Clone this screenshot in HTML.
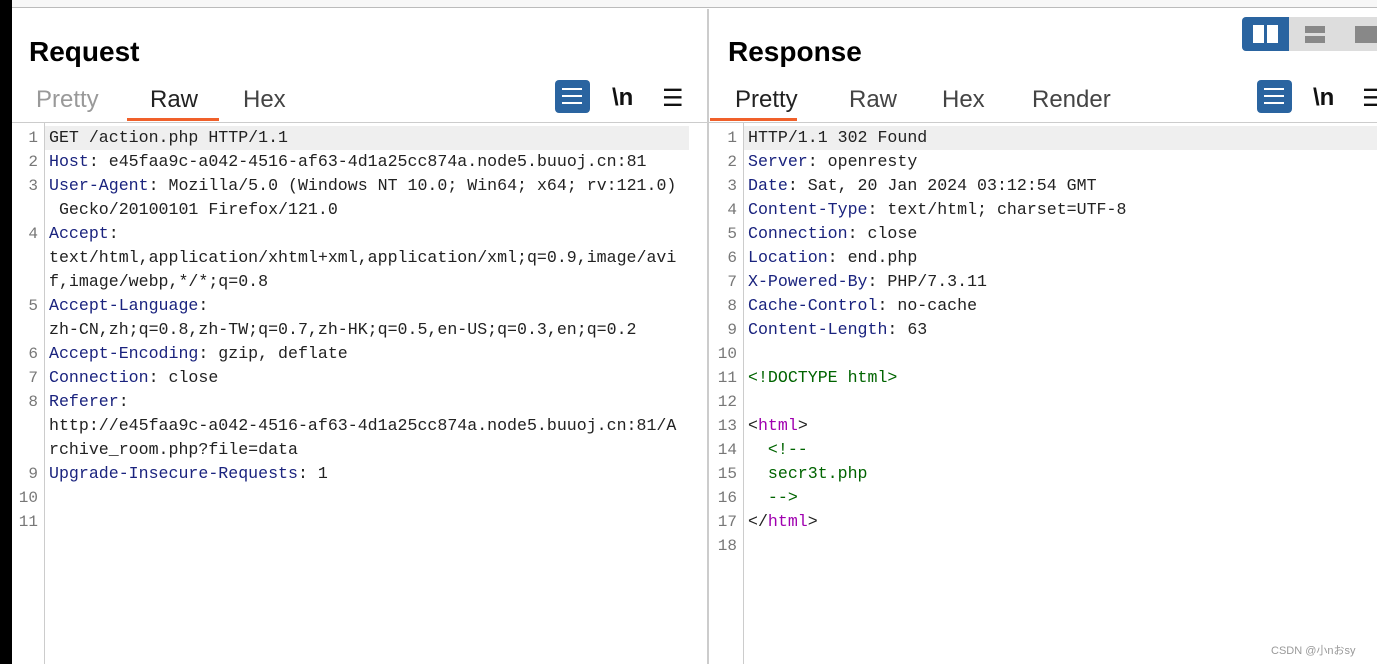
<!DOCTYPE html>
<html><head><meta charset="utf-8"><style>
*{margin:0;padding:0;box-sizing:border-box}
body{width:1377px;height:664px;background:#fff;position:relative;overflow:hidden;font-family:"Liberation Sans",sans-serif}
.a{position:absolute}
.code{font-family:"Liberation Mono",monospace;font-size:16.6px;line-height:24px;color:#222;white-space:pre}
.ln{font-family:"Liberation Mono",monospace;font-size:16px;line-height:24px;color:#777;text-align:right;white-space:pre}
.k{color:#1a237e}.t{color:#a000b0}.c{color:#006400}
.h{font-weight:bold;font-size:28px;color:#000}
.tab{font-size:24px;color:#444}
.btn{background:#2a64a0;border-radius:4px;width:35px;height:33px}
</style></head><body>
<div class="a" style="left:0;top:0;width:12px;height:664px;background:#000"></div>
<div class="a" style="left:12px;top:0;width:1365px;height:8px;background:#f7f7f7;border-bottom:1px solid #bbb"></div>
<div class="a" style="left:707px;top:9px;width:2px;height:655px;background:#ccc"></div>
<div class="a" style="left:12px;top:122px;width:695px;height:1px;background:#ccc"></div>
<div class="a" style="left:709px;top:122px;width:668px;height:1px;background:#ccc"></div>
<div class="a" style="left:44px;top:123px;width:1px;height:541px;background:#ccc"></div>
<div class="a" style="left:743px;top:123px;width:1px;height:541px;background:#ccc"></div>
<div class="a" style="left:45px;top:126px;width:644px;height:24px;background:#efefef"></div>
<div class="a" style="left:744px;top:126px;width:633px;height:24px;background:#efefef"></div>

<div class="a h" style="left:29px;top:36px">Request</div>
<div class="a tab" style="left:36px;top:86px;color:#999">Pretty</div>
<div class="a tab" style="left:150px;top:86px;color:#222">Raw</div>
<div class="a tab" style="left:243px;top:86px">Hex</div>
<div class="a" style="left:127px;top:118px;width:92px;height:3px;background:#f0602a"></div>
<div class="a btn" style="left:555px;top:80px"></div>
<div class="a" style="left:562px;top:88px;width:20px;height:2px;background:#fff;box-shadow:0 7px 0 #fff,0 14px 0 #fff"></div>
<div class="a" style="left:612px;top:84px;font-size:24px;font-weight:bold;color:#111">\n</div>
<div class="a" style="left:662px;top:84px;font-size:24px;color:#111">☰</div>

<div class="a h" style="left:728px;top:36px">Response</div>
<div class="a tab" style="left:735px;top:86px;color:#222">Pretty</div>
<div class="a tab" style="left:849px;top:86px">Raw</div>
<div class="a tab" style="left:942px;top:86px">Hex</div>
<div class="a tab" style="left:1032px;top:86px">Render</div>
<div class="a" style="left:710px;top:118px;width:87px;height:3px;background:#f0602a"></div>
<div class="a btn" style="left:1257px;top:80px"></div>
<div class="a" style="left:1264px;top:88px;width:20px;height:2px;background:#fff;box-shadow:0 7px 0 #fff,0 14px 0 #fff"></div>
<div class="a" style="left:1313px;top:84px;font-size:24px;font-weight:bold;color:#111">\n</div>
<div class="a" style="left:1362px;top:84px;font-size:24px;color:#111">☰</div>

<div class="a" style="left:1242px;top:17px;width:135px;height:34px;background:#ddd;border-radius:4px 0 0 4px"></div>
<div class="a" style="left:1242px;top:17px;width:47px;height:34px;background:#2a64a0;border-radius:4px 0 0 4px"></div>
<div class="a" style="left:1253px;top:25px;width:11px;height:18px;background:#fff"></div>
<div class="a" style="left:1267px;top:25px;width:11px;height:18px;background:#fff"></div>
<div class="a" style="left:1305px;top:26px;width:20px;height:7px;background:#888"></div>
<div class="a" style="left:1305px;top:36px;width:20px;height:7px;background:#888"></div>
<div class="a" style="left:1355px;top:26px;width:22px;height:17px;background:#888"></div>

<div class="a ln" style="left:12px;top:126px;width:26px">1
2
3

4


5

6
7
8


9
10
11</div>
<div class="a code" style="left:49px;top:126px">GET /action.php HTTP/1.1
<span class="k">Host</span>: e45faa9c-a042-4516-af63-4d1a25cc874a.node5.buuoj.cn:81
<span class="k">User-Agent</span>: Mozilla/5.0 (Windows NT 10.0; Win64; x64; rv:121.0)
 Gecko/20100101 Firefox/121.0
<span class="k">Accept</span>:
text/html,application/xhtml+xml,application/xml;q=0.9,image/avi
f,image/webp,*/*;q=0.8
<span class="k">Accept-Language</span>:
zh-CN,zh;q=0.8,zh-TW;q=0.7,zh-HK;q=0.5,en-US;q=0.3,en;q=0.2
<span class="k">Accept-Encoding</span>: gzip, deflate
<span class="k">Connection</span>: close
<span class="k">Referer</span>:
http://e45faa9c-a042-4516-af63-4d1a25cc874a.node5.buuoj.cn:81/A
rchive_room.php?file=data
<span class="k">Upgrade-Insecure-Requests</span>: 1</div>

<div class="a ln" style="left:709px;top:126px;width:28px">1
2
3
4
5
6
7
8
9
10
11
12
13
14
15
16
17
18</div>
<div class="a code" style="left:748px;top:126px">HTTP/1.1 302 Found
<span class="k">Server</span>: openresty
<span class="k">Date</span>: Sat, 20 Jan 2024 03:12:54 GMT
<span class="k">Content-Type</span>: text/html; charset=UTF-8
<span class="k">Connection</span>: close
<span class="k">Location</span>: end.php
<span class="k">X-Powered-By</span>: PHP/7.3.11
<span class="k">Cache-Control</span>: no-cache
<span class="k">Content-Length</span>: 63

<span class="c">&lt;!DOCTYPE html&gt;</span>

&lt;<span class="t">html</span>&gt;
  <span class="c">&lt;!--</span>
  <span class="c">secr3t.php</span>
  <span class="c">--&gt;</span>
&lt;/<span class="t">html</span>&gt;
</div>
<div class="a" style="left:1271px;top:642px;font-size:11px;color:#999">CSDN @小nおsy</div>
</body></html>
